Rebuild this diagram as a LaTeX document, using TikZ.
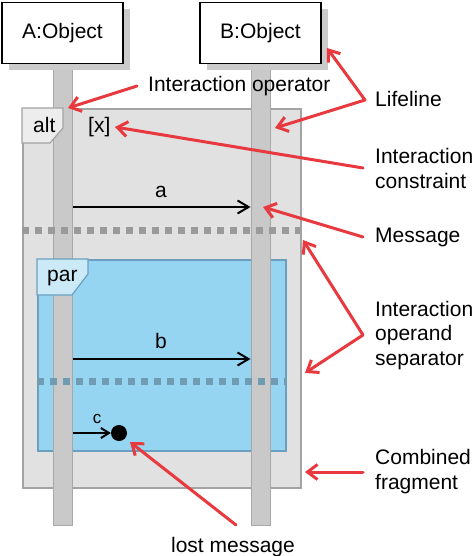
\documentclass[tikz,border=0pt]{standalone}
\usepackage{fontspec}
\setmainfont{Liberation Sans}
\usetikzlibrary{arrows.meta,shadows}
\definecolor{fragfill}{HTML}{E1E1E1}
\definecolor{fragline}{HTML}{A3A3A3}
\definecolor{lifefill}{HTML}{C9C9C9}
\definecolor{lifeline}{HTML}{A8A8A8}
\definecolor{alttagfill}{HTML}{EDEDED}
\definecolor{parfill}{HTML}{95D5F1}
\definecolor{parline}{HTML}{6A9FC0}
\definecolor{partagfill}{HTML}{CBE9F7}
\definecolor{sepgray}{HTML}{9A9A9A}
\definecolor{sepblue}{HTML}{6F9BB3}
\definecolor{annot}{HTML}{E8393F}
\definecolor{shadowgray}{HTML}{CBCBCB}
\begin{document}
\begin{tikzpicture}[x=1pt,y=-1pt,
  txt/.style={font=\fontsize{21}{24.5}\selectfont, inner sep=0pt},
  lbl/.style={txt, anchor=base west, align=left},
  obj/.style={txt, draw=black, line width=1.2pt, fill=white, minimum width=121pt, minimum height=61pt,
    drop shadow={shadow xshift=7pt, shadow yshift=-7pt, fill=shadowgray, opacity=1}},
  frag/.style={draw=fragline, line width=2pt, fill=fragfill, inner sep=0pt},
  parfrag/.style={draw=parline, line width=1.6pt, fill=parfill, inner sep=0pt},
  lifebar/.style={draw=lifeline, line width=1pt, fill=lifefill, minimum width=19pt, minimum height=459pt, inner sep=0pt, anchor=north},
  alttag/.style={draw=fragline, line width=1.2pt, fill=alttagfill},
  partag/.style={draw=parline, line width=1.2pt, fill=partagfill},
  sepg/.style={draw=sepgray, line width=7pt, dash pattern=on 7pt off 6pt},
  sepb/.style={draw=sepblue, line width=7pt, dash pattern=on 7pt off 6pt},
  msg/.style={draw=black, line width=2pt, -{Straight Barb[length=11pt,width=13pt,line width=2pt]}},
  msgs/.style={draw=black, line width=2pt, -{Straight Barb[length=8pt,width=10pt,line width=2pt]}},
  ann/.style={draw=annot, line width=3pt, line cap=round, line join=round, -{Straight Barb[length=10pt,width=15pt,line width=3pt]}},
  annboth/.style={draw=annot, line width=3pt, line cap=round, line join=round, {Straight Barb[length=10pt,width=15pt,line width=3pt]}-{Straight Barb[length=10pt,width=15pt,line width=3pt]}}
]
\useasboundingbox (0,0) rectangle (474,556);

% fragments
\node[frag, anchor=north west, minimum width=278pt, minimum height=379pt] (alt) at (22,108) {};
\node[parfrag, anchor=north west, minimum width=248pt, minimum height=191pt] (par) at (37,259) {};

% lifelines
\node[lifebar] (LA) at (62.5,66) {};
\node[lifebar] (LB) at (260.5,66) {};

% tags
\draw[alttag] (22,108) -- (63,108) -- (63,128) -- (50,143) -- (22,143) -- cycle;
\node[txt, anchor=base west] (alttxt) at (33,133) {alt};
\node[txt, anchor=base west] (guard) at (88,133) {[x]};
\draw[partag] (37,259) -- (88,259) -- (88,274) -- (72,295) -- (37,295) -- cycle;
\node[txt, anchor=base west] (partxt) at (47,281) {par};

% separators
\coordinate (s1a) at (22,230);
\coordinate (s1b) at (300,230);
\draw[sepg] (s1a) -- (s1b);
\coordinate (s2a) at (37,381);
\coordinate (s2b) at (285,381);
\draw[sepb] (s2a) -- (s2b);

% objects
\node[obj] (A) at (62.5,33) {A:Object};
\node[obj] (B) at (260.5,33) {B:Object};

% messages
\coordinate (ya) at (0,207);
\coordinate (yb) at (0,359);
\coordinate (yc) at (0,433);
\draw[msg] (LA.east |- ya) -- (LB.west |- ya);
\node[txt, anchor=base] (la) at (161,197) {a};
\draw[msg] (LA.east |- yb) -- (LB.west |- yb);
\node[txt, anchor=base] (lb) at (161,348) {b};
\node[circle, fill=black, inner sep=0pt, minimum size=16pt] (lost) at (119,433) {};
\draw[msgs] (LA.east |- yc) -- (lost.west);
\node[txt, font=\fontsize{17}{20}\selectfont, anchor=base] (lc) at (97,423) {c};

% annotation labels (base = baseline of last line)
\node[lbl] (tOp) at (148,92) {Interaction operator};
\node[lbl] (tLife) at (375,107) {Lifeline};
\node[lbl] (tCon) at (375,188) {Interaction\\constraint};
\node[lbl] (tMsg) at (375,242) {Message};
\node[lbl] (tSep) at (375,365) {Interaction\\operand\\separator};
\node[lbl] (tComb) at (375,489) {Combined\\fragment};
\node[txt, anchor=base] (tLost) at (233,552) {lost message};

% annotation arrows
\coordinate (opS) at (137,86);   \coordinate (opT) at (68,108);
\draw[ann] (opS) -- (opT);
\coordinate (lfV) at (365,100);  \coordinate (lfT1) at (327,48); \coordinate (lfT2) at (275,128);
\draw[annboth] (lfT1) -- (lfV) -- (lfT2);
\coordinate (cnS) at (363,168);  \coordinate (cnT) at (115,127);
\draw[ann] (cnS) -- (cnT);
\coordinate (msS) at (363,237);  \coordinate (msT) at (263,207);
\draw[ann] (msS) -- (msT);
\coordinate (spV) at (363,335);  \coordinate (spT1) at (303,240); \coordinate (spT2) at (305,373);
\draw[annboth] (spT1) -- (spV) -- (spT2);
\coordinate (cfS) at (363,472);  \coordinate (cfT) at (305,472);
\draw[ann] (cfS) -- (cfT);
\coordinate (lmS) at (236,525);  \coordinate (lmT) at (130,442);
\draw[ann] (lmS) -- (lmT);
\end{tikzpicture}
\end{document}
